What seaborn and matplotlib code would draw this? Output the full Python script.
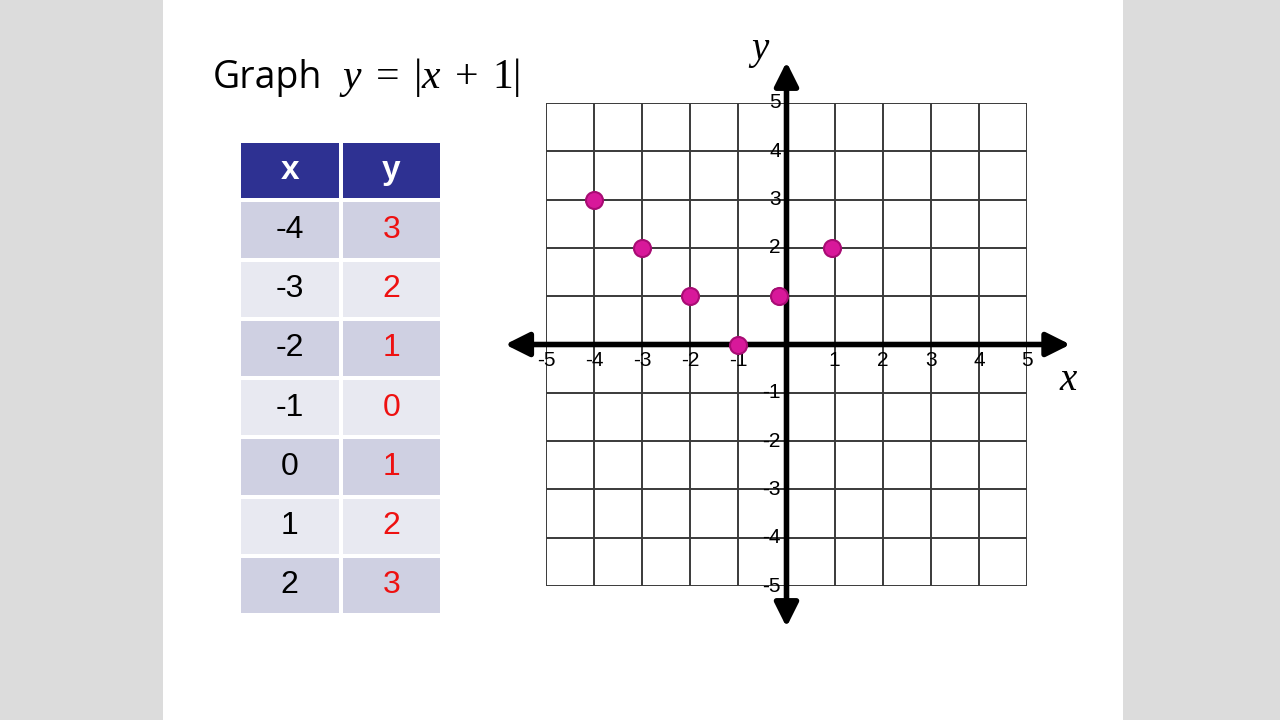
import matplotlib.pyplot as plt
import seaborn as sns
import numpy as np
from matplotlib.colors import ListedColormap
from matplotlib.patches import Rectangle

# table values
table_x = [-4, -3, -2, -1, 0, 1, 2]
table_y = [3, 2, 1, 0, 1, 2, 3]

# points as marked on the grid (hand drawn)
marked_x = [-4, -3, -2, -1, -0.15, 0.95]
marked_y = [3, 2, 1, 0, 1, 2]

ticks = [-5, -4, -3, -2, -1, 0, 1, 2, 3, 4, 5]
tick_labels = ['' if t == 0 else str(t) for t in ticks]

sns.set_theme(style='white')
plt.rcParams['font.family'] = ['Liberation Sans', 'DejaVu Sans']
plt.rcParams['mathtext.fontset'] = 'custom'
plt.rcParams['mathtext.rm'] = 'Liberation Serif'
plt.rcParams['mathtext.it'] = 'Liberation Serif:italic'
plt.rcParams['text.color'] = 'black'

fig = plt.figure(figsize=(12.8, 7.2), dpi=100)
fig.patch.set_facecolor('#dcdcdc')
fig.patches.append(Rectangle((163 / 1280, 0), 960 / 1280, 1, transform=fig.transFigure,
                             facecolor='white', edgecolor='none', zorder=-10))

# title: word and equation
fig.text(213 / 1280, 1 - 88 / 720, 'Graph', fontsize=27,
         family=['Open Sans', 'DejaVu Sans'], va='baseline', ha='left', color='black')
fig.text(339 / 1280, 1 - 88 / 720, r'$y\;=\;|x\;+\;1|$', fontsize=30,
         va='baseline', ha='left', color='black')

# ---- table drawn as a heatmap ----
tax = fig.add_axes([239 / 1280, 1 - 615 / 720, 203 / 1280, 474 / 720])
shade = np.array([[2, 2]] + [[(i + 1) % 2, (i + 1) % 2] for i in range(len(table_x))])
cmap = ListedColormap(['#e8e9f1', '#cfd0e2', '#2e3192'])
sns.heatmap(shade, ax=tax, cmap=cmap, vmin=-0.5, vmax=2.5, cbar=False,
            linewidths=1.5, linecolor='white', xticklabels=False, yticklabels=False)
tax.text(0.5, 0.5, 'x', color='white', fontsize=24, fontweight='bold', ha='center', va='center')
tax.text(1.5, 0.5, 'y', color='white', fontsize=24, fontweight='bold', ha='center', va='center')
for i, (xv, yv) in enumerate(zip(table_x, table_y)):
    tax.text(0.5, i + 1.5, str(xv), color='black', fontsize=23, ha='center', va='center')
    tax.text(1.5, i + 1.5, str(yv), color='#ee1111', fontsize=23, ha='center', va='center')

# ---- coordinate grid ----
ax = fig.add_axes([546 / 1280, 1 - 586 / 720, 481 / 1280, 483 / 720])
ax.set_facecolor('none')
ax.set_xlim(-5, 5)
ax.set_ylim(-5, 5)
ax.set_xticks(ticks)
ax.set_yticks(ticks)
ax.set_xticklabels(tick_labels)
ax.set_yticklabels(tick_labels)
ax.grid(True, color='#3a3a3a', linewidth=1.4)
for gl in ax.get_xgridlines() + ax.get_ygridlines():
    gl.set_clip_on(False)
for side in ['left', 'bottom']:
    ax.spines[side].set_position('zero')
    ax.spines[side].set_color('none')
for side in ['right', 'top']:
    ax.spines[side].set_visible(False)
ax.tick_params(axis='both', length=0, labelsize=15, colors='black')
ax.tick_params(axis='x', pad=5)
ax.tick_params(axis='y', pad=4)
for lab in ax.get_yticklabels():
    lab.set_verticalalignment('center')

arrow = dict(arrowstyle='<|-|>', lw=4, color='black', mutation_scale=36,
             shrinkA=0, shrinkB=0)
ax.annotate('', xy=(5.9, 0), xytext=(-5.85, 0), arrowprops=arrow, annotation_clip=False)
ax.annotate('', xy=(0, 5.85), xytext=(0, -5.85), arrowprops=arrow, annotation_clip=False)

sns.scatterplot(x=marked_x, y=marked_y, ax=ax, s=150, color='#d8189a',
                edgecolor='#a80c74', linewidth=1.5, zorder=5, clip_on=False)

fig.text(760 / 1280, 1 - 50 / 720, 'y', fontsize=28, style='italic',
         family=['Liberation Serif', 'DejaVu Serif'], ha='center', va='center')
fig.text(1068 / 1280, 1 - 380 / 720, 'x', fontsize=28, style='italic',
         family=['Liberation Serif', 'DejaVu Serif'], ha='center', va='center')

fig.savefig('out.png', dpi=100, facecolor=fig.get_facecolor())
